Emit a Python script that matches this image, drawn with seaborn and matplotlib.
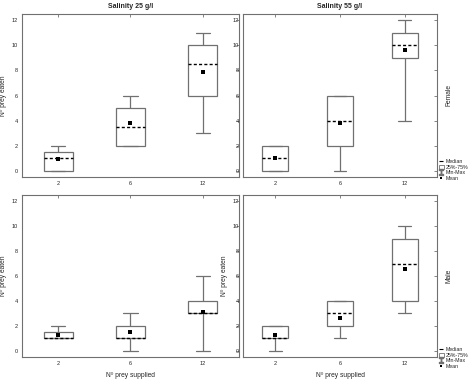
import pandas as pd
import matplotlib.pyplot as plt
import seaborn as sns
from matplotlib.lines import Line2D
from matplotlib.patches import Patch

# prey supplied (categories)
supplied = ['2', '6', '12']

# summary values: min, Q1, median, Q3, max, mean
f25_min = [0, 2, 3]
f25_q1 = [0, 2, 6]
f25_med = [1, 3.5, 8.5]
f25_q3 = [1.5, 5, 10]
f25_max = [2, 6, 11]
f25_mean = [0.9, 3.8, 7.85]

f55_min = [0, 0, 4]
f55_q1 = [0, 2, 9]
f55_med = [1, 4, 10]
f55_q3 = [2, 6, 11]
f55_max = [2, 6, 12]
f55_mean = [1.0, 3.78, 9.65]

m25_min = [1, 0, 0]
m25_q1 = [1, 1, 3]
m25_med = [1, 1, 3]
m25_q3 = [1.5, 2, 4]
m25_max = [2, 3, 6]
m25_mean = [1.23, 1.48, 3.08]

m55_min = [0, 1, 3]
m55_q1 = [1, 2, 4]
m55_med = [1, 3, 7]
m55_q3 = [2, 4, 9]
m55_max = [2, 4, 10]
m55_mean = [1.27, 2.65, 6.58]

GREY = '#707070'


def long_table(mins, q1s, meds, q3s, maxs):
    # five points per group reproduce min/Q1/median/Q3/max exactly
    rows = []
    for cat, a, b, c, d, e in zip(supplied, mins, q1s, meds, q3s, maxs):
        for v in (a, b, c, d, e):
            rows.append({'supplied': cat, 'eaten': v})
    return pd.DataFrame(rows)


def draw_panel(ax, stats, means):
    df = long_table(*stats)
    sns.boxplot(data=df, x='supplied', y='eaten', order=supplied, ax=ax,
                whis=(0, 100), width=0.4, color='white', linecolor=GREY,
                linewidth=0.9,
                medianprops=dict(color='black', linestyle=(0, (2.2, 1.6)),
                                 linewidth=1.0))
    mdf = pd.DataFrame({'supplied': supplied, 'mean': means})
    sns.pointplot(data=mdf, x='supplied', y='mean', order=supplied, ax=ax,
                  linestyle='none', markers='s', color='black',
                  markersize=2.4, markeredgewidth=0, errorbar=None)
    ax.set_ylim(-0.5, 12.5)
    ax.set_xlim(-0.5, 2.5)
    ax.set_yticks(range(0, 13, 2))
    ax.set_xlabel('')
    ax.set_ylabel('')
    ax.tick_params(direction='in', top=True, right=True, length=2.5,
                   width=0.6, color=GREY, labelsize=4, pad=3)
    for sp in ax.spines.values():
        sp.set_visible(True)
        sp.set_color(GREY)
        sp.set_linewidth(0.8)


sns.set_theme(style='white')
plt.rcParams['font.family'] = ['Liberation Sans', 'DejaVu Sans']

fig = plt.figure(figsize=(4.74, 3.82), dpi=100)
x0, x1 = 22 / 474, 239 / 474
x2, x3 = 243 / 474, 437 / 474
ytop_t, ytop_b = 1 - 14 / 382, 1 - 177 / 382
ybot_t, ybot_b = 1 - 195 / 382, 1 - 357 / 382

ax_tl = fig.add_axes([x0, ytop_b, x1 - x0, ytop_t - ytop_b])
ax_tr = fig.add_axes([x2, ytop_b, x3 - x2, ytop_t - ytop_b])
ax_bl = fig.add_axes([x0, ybot_b, x1 - x0, ybot_t - ybot_b])
ax_br = fig.add_axes([x2, ybot_b, x3 - x2, ybot_t - ybot_b])

draw_panel(ax_tl, (f25_min, f25_q1, f25_med, f25_q3, f25_max), f25_mean)
draw_panel(ax_tr, (f55_min, f55_q1, f55_med, f55_q3, f55_max), f55_mean)
draw_panel(ax_bl, (m25_min, m25_q1, m25_med, m25_q3, m25_max), m25_mean)
draw_panel(ax_br, (m55_min, m55_q1, m55_med, m55_q3, m55_max), m55_mean)

ax_tl.set_title('Salinity 25 g/l', fontsize=5, fontweight='bold', pad=4)
ax_tr.set_title('Salinity 55 g/l', fontsize=5, fontweight='bold', pad=4)

for ax in (ax_tl, ax_bl, ax_br):
    ax.set_ylabel('Nº prey eaten', fontsize=4.8, labelpad=3)
for ax in (ax_bl, ax_br):
    ax.set_xlabel('Nº prey supplied', fontsize=4.8, labelpad=4)

fig.text(449 / 474, 1 - 95 / 382, 'Female', rotation=90, fontsize=4.8,
         ha='center', va='center')
fig.text(449 / 474, 1 - 276 / 382, 'Male', rotation=90, fontsize=4.8,
         ha='center', va='center')

handles = [
    Line2D([], [], linestyle='none', marker='_', color='black',
           markersize=2.5, markeredgewidth=0.8),
    Patch(facecolor='white', edgecolor=GREY, linewidth=0.6),
    Line2D([], [], linestyle='none', marker=r'$\mathtt{I}$', color=GREY,
           markersize=4),
    Line2D([], [], linestyle='none', marker='s', color='black',
           markersize=2, markeredgewidth=0),
]
labels = ['Median', '25%-75%', 'Min-Max', 'Mean']
for ytop in (159, 347):
    fig.legend(handles, labels, loc='upper left',
               bbox_to_anchor=(439 / 474, 1 - ytop / 382), frameon=False,
               fontsize=3.8, handlelength=0.9, handleheight=0.9,
               handletextpad=0.4, labelspacing=0.1, borderpad=0,
               borderaxespad=0)

fig.savefig('out.png', dpi=100, facecolor='white')
